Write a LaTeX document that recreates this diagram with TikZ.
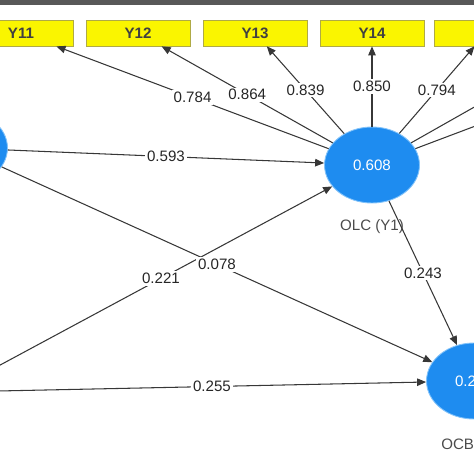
\documentclass[tikz,border=0pt]{standalone}
\usepackage{fontspec}
\setmainfont{Liberation Sans}
\usetikzlibrary{arrows.meta,positioning,shapes.geometric}
\definecolor{lvblue}{RGB}{30,140,240}
\definecolor{lvedge}{RGB}{130,195,250}
\definecolor{indfill}{RGB}{250,245,0}
\definecolor{inddraw}{RGB}{175,170,70}
\definecolor{pathgray}{RGB}{55,55,55}
\definecolor{topbar}{RGB}{88,88,88}

\begin{document}
\begin{tikzpicture}[x=0.02cm,y=-0.02cm, every node/.style={font=\fontsize{8.6}{10}\selectfont},lv/.style={ellipse,fill=lvblue,draw=lvedge,line width=0.5pt,minimum width=1.9cm,minimum height=1.52cm,inner sep=0pt,text=white},ind/.style={draw=inddraw,fill=indfill,minimum width=2.08cm,minimum height=0.52cm,inner sep=0pt,text=black!75,font=\fontsize{8.6}{10}\selectfont\bfseries},arr/.style={draw=pathgray,line width=0.6pt,-{Triangle[length=1.8mm,width=1.5mm]}},val/.style={fill=white,inner sep=1pt,text=black!85},lab/.style={text=black!70}]
\useasboundingbox (0,0) rectangle (474,474);
\clip (0,0) rectangle (474,474);
\fill[topbar] (0,0) rectangle (474,5);
\node[ind] (y11) at (21,33) {Y11};
\node[ind] (y12) at (138,33) {Y12};
\node[ind] (y13) at (255,33) {Y13};
\node[ind] (y14) at (372,33) {Y14};
\node[ind] (y15) at (486,33) {};
\node[ind] (y16) at (605,33) {};
\node[ind] (y17) at (722,33) {};
\node[lv] (olc) at (372,165) {0.608};
\node[lv] (ocb) at (474,381) {0.2\phantom{00}};
\node[lv] (x1) at (-40,148) {};
\node[lv] (x2) at (-50,392) {};
\node[lab,below=2mm of olc] (olcname) {OLC (Y1)};
\node[lab,below=2.5mm of ocb] (ocbname) {OCB\phantom{ (Y2)}};
\draw[arr] (olc) -- node[val]{0.784} (y11);
\draw[arr] (olc) -- node[val]{0.864} (y12);
\draw[arr] (olc) -- node[val]{0.839} (y13);
\draw[arr] (olc) -- node[val]{0.850} (y14);
\draw[arr] (olc) -- node[val]{0.794} (y15);
\draw[arr] (olc) -- (y16);
\draw[arr] (olc) -- (y17);
\draw[arr] (x1) -- node[val]{0.593} (olc);
\draw[arr] (x2) -- node[val]{0.221} (olc);
\draw[arr] (x1) -- node[val]{0.078} (ocb);
\draw[arr] (x2) -- node[val]{0.255} (ocb);
\draw[arr] (olc) -- node[val]{0.243} (ocb);
\end{tikzpicture}
\end{document}
